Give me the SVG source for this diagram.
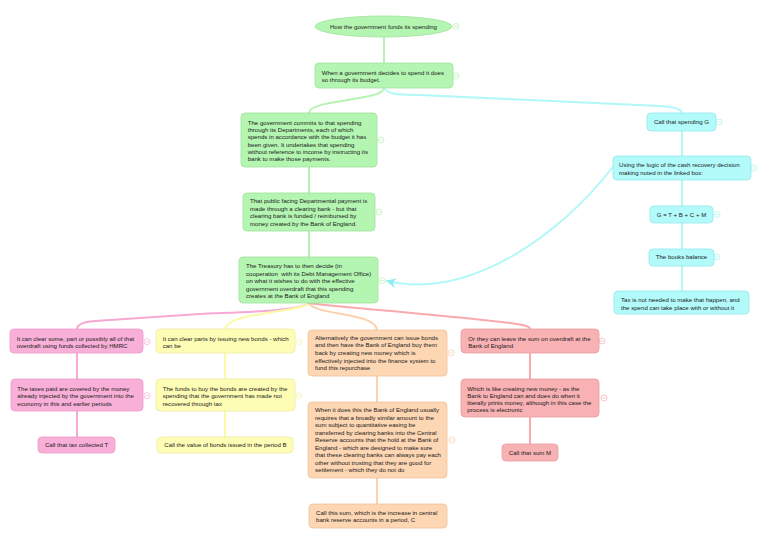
<svg xmlns="http://www.w3.org/2000/svg" width="768" height="542" viewBox="0 0 768 542">
<defs>
<style>
text{font-family:"Liberation Sans",Arial,sans-serif;font-size:6.1px;fill:#1a1a1a}
.c{text-anchor:middle}
.g{fill:#b4f5b1;stroke:#9fe29c;stroke-width:0.8}
.cy{fill:#b3fbfb;stroke:#93e9eb;stroke-width:0.8}
.pk{fill:#f8b0d8;stroke:#eb9bc7;stroke-width:0.8}
.yl{fill:#fdfdb6;stroke:#ececa0;stroke-width:0.8}
.or{fill:#fdd6b3;stroke:#efc19c;stroke-width:0.8}
.rd{fill:#f8b2b4;stroke:#e89c9f;stroke-width:0.8}
.ln{fill:none;stroke-width:2;stroke-linecap:round}
.lg{stroke:#b6f2b2}.lc{stroke:#b2f8f8}.lp{stroke:#f7a8d3}.ly{stroke:#fbfaa6}.lo{stroke:#fbd2ad}.lr{stroke:#f8aaae}
.k{fill:#fff;stroke-width:0.7}
</style>
<marker id="ah" viewBox="0 0 10 10" refX="9" refY="5" markerWidth="5" markerHeight="5" orient="auto" markerUnits="strokeWidth">
<path d="M0,0 L10,5 L0,10 L3,5 z" fill="#8fecf0"/>
</marker>
</defs>
<rect width="768" height="542" fill="#fff"/>
<g id="connectors">
<path class="ln lg" d="M384,37 L384,63"/>
<path class="ln lg" d="M384,88 C384,101 309,99 309,113"/>
<path class="ln lg" d="M309,167 L309,193"/>
<path class="ln lg" d="M309,231 L309,257"/>
<path class="ln lc" d="M384,88 C390,96 400,94 420,95 L660,106 C675,107 682,109 682,113"/>
<path class="ln lc" d="M682,131 L682,156"/>
<path class="ln lc" d="M682,180 L682,206"/>
<path class="ln lc" d="M682,223 L682,249"/>
<path class="ln lc" d="M682,266 L682,291"/>
<path class="ln lc" d="M612,168 C560,235 470,300 387,281" stroke-width="1.8" marker-end="url(#ah)"/>
<path class="ln lp" d="M309,303 C302,311 240,312 200,314 L95,321 C82,322 77,325 77,329"/>
<path class="ln lp" d="M77,353 L77,379"/>
<path class="ln lp" d="M77,411 L77,437"/>
<path class="ln ly" d="M309,303 C304,312 228,312 225,329"/>
<path class="ln ly" d="M225,353 L225,379"/>
<path class="ln ly" d="M225,411 L225,437"/>
<path class="ln lo" d="M309,303 C316,316 375,312 377,330"/>
<path class="ln lo" d="M377,376 L377,402"/>
<path class="ln lo" d="M377,478 L377,504"/>
<path class="ln lr" d="M309,303 C330,307 420,312 510,323 C524,325 530,326 530,329"/>
<path class="ln lr" d="M530,353 L530,379"/>
<path class="ln lr" d="M530,417 L530,444"/>
</g>
<g id="toggles">
<g stroke="#b4f0b1"><circle class="k" cx="456" cy="26.5" r="3"/><path d="M454.3,26.5h3.4" stroke-width="0.7"/>
<circle class="k" cx="456" cy="75.7" r="3"/><path d="M454.3,75.7h3.4" stroke-width="0.7"/>
<circle class="k" cx="381" cy="140" r="3"/><path d="M379.3,140h3.4" stroke-width="0.7"/>
<circle class="k" cx="379" cy="212" r="3"/><path d="M377.3,212h3.4" stroke-width="0.7"/>
<circle class="k" cx="382.3" cy="280.7" r="3"/><path d="M380.6,280.7h3.4" stroke-width="0.7"/></g>
<g stroke="#a8f0f2"><circle class="k" cx="719" cy="122" r="3"/><path d="M717.3,122h3.4" stroke-width="0.7"/>
<circle class="k" cx="754" cy="168" r="3"/><path d="M752.3,168h3.4" stroke-width="0.7"/>
<circle class="k" cx="717" cy="214.5" r="3"/><path d="M715.3,214.5h3.4" stroke-width="0.7"/>
<circle class="k" cx="717" cy="257" r="3"/><path d="M715.3,257h3.4" stroke-width="0.7"/></g>
<g stroke="#f7acd6"><circle class="k" cx="147" cy="341.7" r="3"/><path d="M145.3,341.7h3.4" stroke-width="0.7"/>
<circle class="k" cx="147" cy="395.7" r="3"/><path d="M145.3,395.7h3.4" stroke-width="0.7"/></g>
<g stroke="#f4f3a8"><circle class="k" cx="299" cy="341.7" r="3"/><path d="M297.3,341.7h3.4" stroke-width="0.7"/>
<circle class="k" cx="299" cy="395.7" r="3"/><path d="M297.3,395.7h3.4" stroke-width="0.7"/></g>
<g stroke="#fbcfa8"><circle class="k" cx="451" cy="353" r="3"/><path d="M449.3,353h3.4" stroke-width="0.7"/>
<circle class="k" cx="452" cy="440" r="3"/><path d="M450.3,440h3.4" stroke-width="0.7"/></g>
<g stroke="#f8aaae"><circle class="k" cx="602" cy="341" r="3"/><path d="M600.3,341h3.4" stroke-width="0.7"/>
<circle class="k" cx="604" cy="398" r="3"/><path d="M602.3,398h3.4" stroke-width="0.7"/></g>
</g>
<g id="n-root"><ellipse class="g" cx="383.5" cy="26.5" rx="68.5" ry="10.5"/><text class="c" x="383.5" y="28.7">How the government funds its spending</text></g>
<g id="n-budget"><rect class="g" x="315" y="63" width="138" height="25" rx="4"/><text x="321.7" y="74.9">When a government decides to spend it does</text><text x="321.7" y="82.2">so through its budget.</text></g>
<g id="n-commits"><rect class="g" x="241" y="113" width="136" height="54" rx="4"/>
<text x="247.7"><tspan x="247.7" y="124.5">The government commits to that spending</tspan><tspan x="247.7" y="131.9">through its Departments, each of which</tspan><tspan x="247.7" y="139.2">spends in accordance with the budget it has</tspan><tspan x="247.7" y="146.5">been given. It undertakes that spending</tspan><tspan x="247.7" y="153.9">without reference to income by instructing its</tspan><tspan x="247.7" y="161.3">bank to make those payments.</tspan></text></g>
<g id="n-clearing"><rect class="g" x="243" y="193" width="132" height="38" rx="4"/>
<text><tspan x="250" y="202.9">That public facing Departmental payment is</tspan><tspan x="250" y="210.5">made through a clearing bank - but that</tspan><tspan x="250" y="218.1">clearing bank is funded / reimbursed by</tspan><tspan x="250" y="225.6">money created by the Bank of England.</tspan></text></g>
<g id="n-treasury"><rect class="g" x="239" y="257" width="139" height="46" rx="4"/>
<text><tspan x="246" y="268.2">The Treasury has to then decide (in</tspan><tspan x="246" y="275.6">cooperation&#160; with its Debt Management Office)</tspan><tspan x="246" y="283">on what it wishes to do with the effective</tspan><tspan x="246" y="290.5">government overdraft that this spending</tspan><tspan x="246" y="298">creates at the Bank of England</tspan></text></g>
<g id="n-callG"><rect class="cy" x="647" y="113" width="69" height="18" rx="4"/><text class="c" x="681.5" y="124.2">Call that spending G</text></g>
<g id="n-logic"><rect class="cy" x="613" y="156" width="138" height="24" rx="4"/><text><tspan x="619" y="167.2">Using the logic of the cash recovery decision</tspan><tspan x="619" y="174.8">making noted in the linked box:</tspan></text></g>
<g id="n-eq"><rect class="cy" x="650" y="206" width="63" height="17" rx="4"/><text class="c" x="681.5" y="216.7">G = T + B + C + M</text></g>
<g id="n-books"><rect class="cy" x="649" y="249" width="65" height="17" rx="4"/><text class="c" x="681.5" y="259.4">The books balance</text></g>
<g id="n-tax-needed"><rect class="cy" x="614" y="291" width="135" height="23" rx="4"/><text><tspan x="621" y="301.5">Tax is not needed to make that happen, and</tspan><tspan x="621" y="309.8">the spend can take place with or without it</tspan></text></g>
<g id="n-hmrc"><rect class="pk" x="10" y="329" width="133" height="24" rx="4"/><text><tspan x="16.7" y="340.5">It can clear some, part or possibly all of that</tspan><tspan x="16.7" y="348.2">overdraft using funds collected by HMRC</tspan></text></g>
<g id="n-taxes"><rect class="pk" x="11" y="379" width="132" height="32" rx="4"/><text><tspan x="17.3" y="390.5">The taxes paid are covered by the money</tspan><tspan x="17.3" y="397.9">already injected by the government into the</tspan><tspan x="17.3" y="405.5">economy in this and earlier periods</tspan></text></g>
<g id="n-T"><rect class="pk" x="38" y="437" width="77" height="16" rx="4"/><text class="c" x="76.5" y="447.2">Call that tax collected T</text></g>
<g id="n-bonds"><rect class="yl" x="156" y="329" width="139" height="24" rx="4"/><text><tspan x="162.7" y="340.5">It can clear parts by issuing new bonds - which</tspan><tspan x="162.7" y="348.2">can be</tspan></text></g>
<g id="n-funds"><rect class="yl" x="156" y="379" width="139" height="32" rx="4"/><text><tspan x="162.7" y="390.5">The funds to buy the bonds are created by the</tspan><tspan x="162.7" y="397.9">spending that the government has made not</tspan><tspan x="162.7" y="405.5">recovered through tax</tspan></text></g>
<g id="n-B"><rect class="yl" x="157" y="437" width="136" height="16" rx="4"/><text class="c" x="225.5" y="447.2">Call the value of bonds issued in the period B</text></g>
<g id="n-alt"><rect class="or" x="308" y="330" width="139" height="46" rx="4"/><text><tspan x="315" y="339.9">Alternatively the government can issue bonds</tspan><tspan x="315" y="347.3">and then have the Bank of England buy them</tspan><tspan x="315" y="354.9">back by creating new money which is</tspan><tspan x="315" y="362.6">effectively injected into the finance system to</tspan><tspan x="315" y="370.3">fund this repurchase</tspan></text></g>
<g id="n-qe"><rect class="or" x="308" y="402" width="139" height="76" rx="4"/><text><tspan x="315" y="412.2">When it does this the Bank of England usually</tspan><tspan x="315" y="419.6">requires that a broadly similar amount to the</tspan><tspan x="315" y="427.1">sum subject to quantitative easing be</tspan><tspan x="315" y="434.7">transferred by clearing banks into the Central</tspan><tspan x="315" y="442.2">Reserve accounts that the hold at the Bank of</tspan><tspan x="315" y="449.6">England - which are designed to make sure</tspan><tspan x="315" y="457.1">that these clearing banks can always pay each</tspan><tspan x="315" y="464.5">other without trusting that they are good for</tspan><tspan x="315" y="472.1">settlement - which they do not do</tspan></text></g>
<g id="n-C"><rect class="or" x="309" y="504" width="138" height="24" rx="4"/><text><tspan x="316" y="514.5">Call this sum, which is the increase in central</tspan><tspan x="316" y="521.6">bank reserve accounts in a period, C</tspan></text></g>
<g id="n-overdraft"><rect class="rd" x="461" y="329" width="138" height="24" rx="4"/><text><tspan x="468.3" y="340.5">Or they can leave the sum on overdraft at the</tspan><tspan x="468.3" y="348.2">Bank of England</tspan></text></g>
<g id="n-newmoney"><rect class="rd" x="461" y="379" width="138" height="38" rx="4"/><text><tspan x="467.3" y="390.5">Which is like creating new money - as the</tspan><tspan x="467.3" y="397.9">Bank to England can and does do when it</tspan><tspan x="467.3" y="404.9">literally prints money, although in this case the</tspan><tspan x="467.3" y="412.2">process is electronic</tspan></text></g>
<g id="n-M"><rect class="rd" x="502" y="444" width="56" height="17" rx="4"/><text class="c" x="530" y="454.5">Call that sum M</text></g>
</svg>
